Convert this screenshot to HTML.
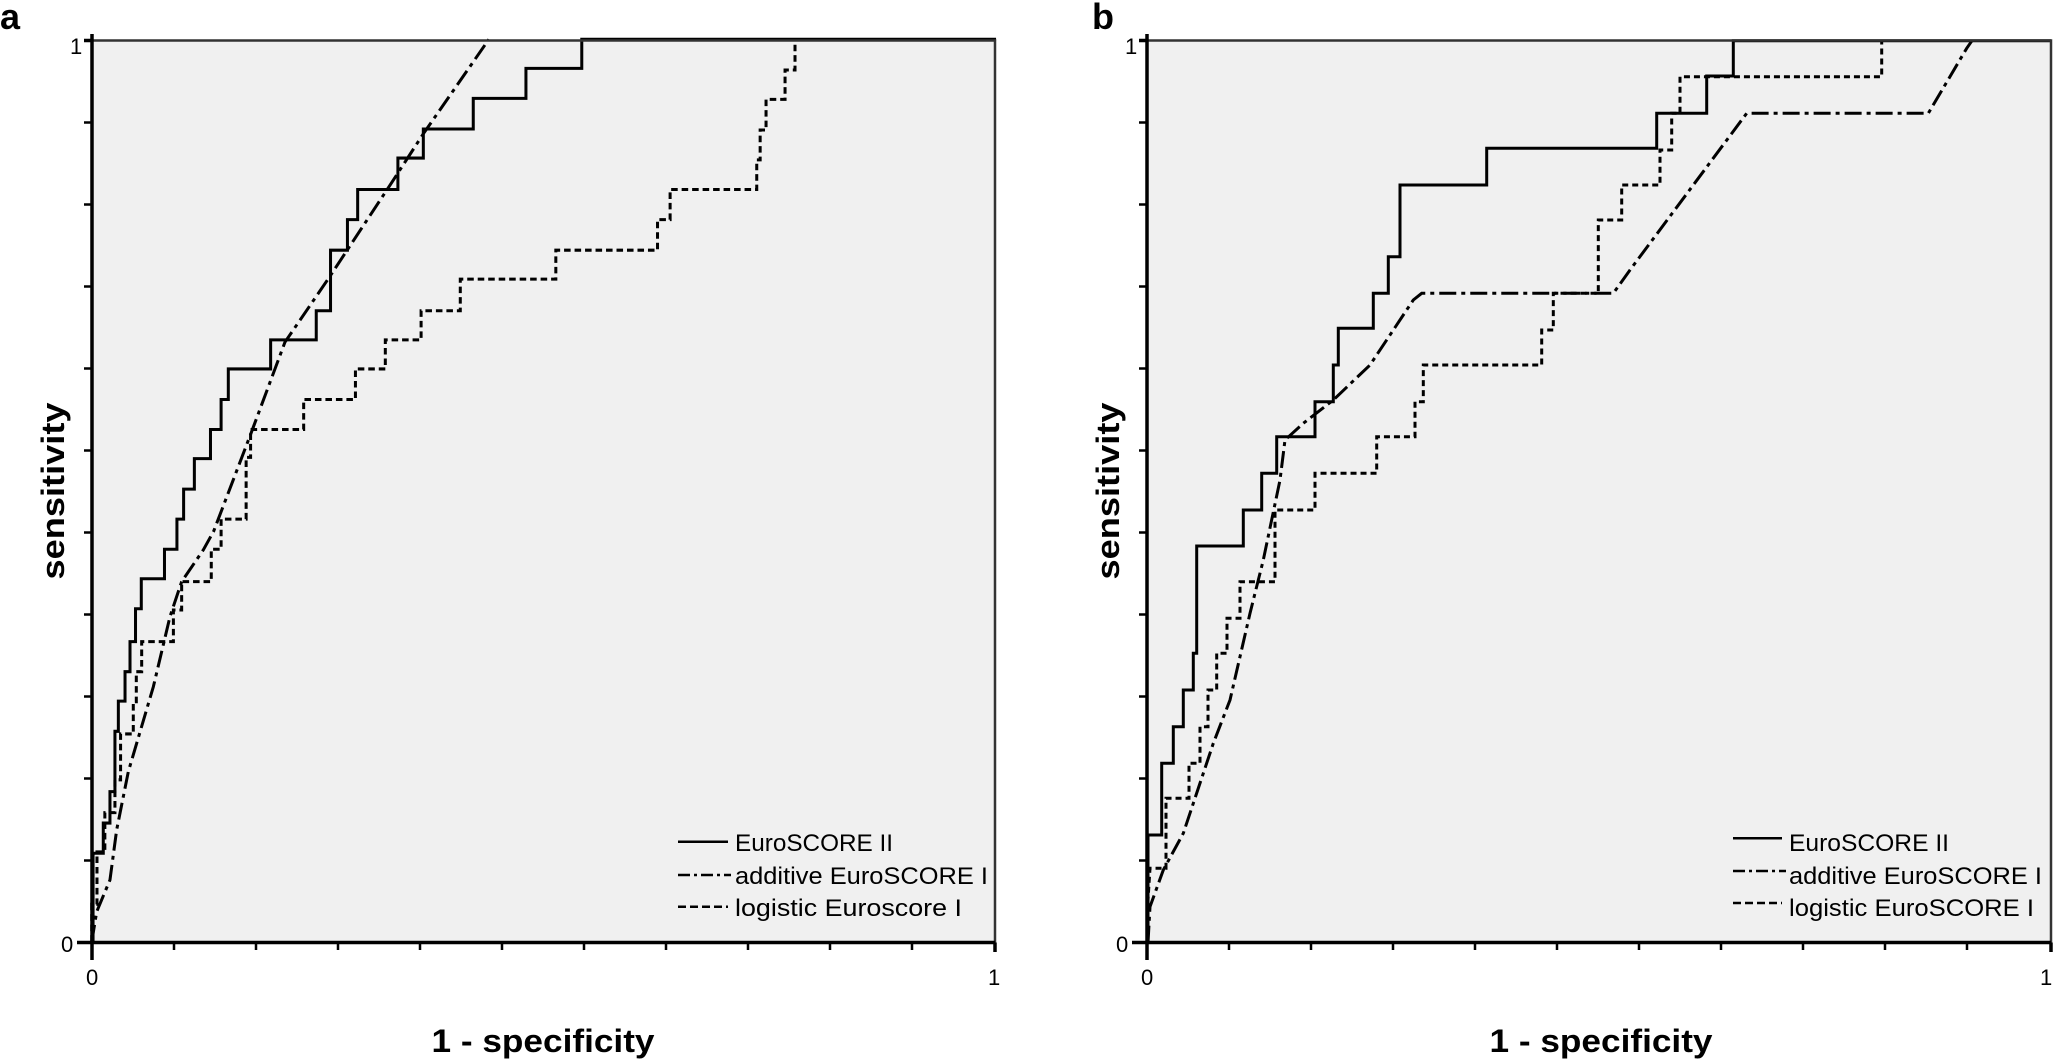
<!DOCTYPE html>
<html><head><meta charset="utf-8"><style>
html,body{margin:0;padding:0;background:#fff;}
svg{display:block;}
text{font-family:"Liberation Sans",Arial,sans-serif;fill:#000;}
</style></head><body>
<svg width="2055" height="1063" viewBox="0 0 2055 1063" xmlns="http://www.w3.org/2000/svg">
<!-- Panel a -->
<rect x="92" y="40.5" width="903" height="902" fill="#f0f0f0"/>
<g fill="none" stroke="#000" stroke-width="3" stroke-linejoin="miter">
<g transform="scale(1.3106)" stroke-width="2.3">
<path d="M70,718.5 L71,718.5 L71,651 L78.8,651 L78.8,628 L83.9,628 L83.9,604 L87.7,604 L87.7,558 L90.3,558 L90.3,535 L95.4,535 L95.4,512.5 L99.2,512.5 L99.2,489.6 L103.4,489.6 L103.4,464.5 L107.8,464.5 L107.8,441.6 L125.5,441.6 L125.5,419.1 L135,419.1 L135,396.1 L140.1,396.1 L140.1,373.2 L148.3,373.2 L148.3,349.9 L160.6,349.9 L160.6,327.7 L168.7,327.7 L168.7,304.8 L174.2,304.8 L174.2,281.5 L206.5,281.5 L206.5,259.3 L241.3,259.3 L241.3,237.1 L252.2,237.1 L252.2,190.9 L265.1,190.9 L265.1,167.6 L272.9,167.6 L272.9,144.6 L303.6,144.6 L303.6,120.6 L323,120.6 L323,98.4 L361.1,98.4 L361.1,75.1 L401.3,75.1 L401.3,52.2 L443.9,52.2 L443.9,30 L760,30"/>
<path stroke-dasharray="13,4,3,4" d="M70,718.5 L73.8,695.6 L83.9,671.4 L89,633.3 L97.9,588.8 L117,524 L129.7,470.5 L138.6,443.8 L155.1,419.6 L163,405.4 L191.9,329.6 L217.4,261.1 L251.5,211.2 L299,139.1 L323,102.1 L373,30"/>
<path stroke-dasharray="5,3" d="M70,718.5 L70,690 L74,690 L74,650 L80,650 L80,620 L87.7,620 L87.7,595 L92,595 L92,560 L101.7,560 L101.7,535.4 L104,535.4 L104,512.5 L108.1,512.5 L108.1,489.6 L132.3,489.6 L132.3,465.4 L138.6,465.4 L138.6,443.8 L161.2,443.8 L161.2,419.1 L168.7,419.1 L168.7,396.1 L187.8,396.1 L187.8,349 L191.2,349 L191.2,327.7 L231.7,327.7 L231.7,304.8 L271.2,304.8 L271.2,281.5 L294,281.5 L294,259.3 L321.3,259.3 L321.3,237.1 L351.2,237.1 L351.2,213 L424.1,213 L424.1,190.9 L501.7,190.9 L501.7,167.6 L511.3,167.6 L511.3,144.6 L577.4,144.6 L577.4,122 L580,122 L580,99.2 L584.5,99.2 L584.5,75.8 L599,75.8 L599,53.4 L606.6,53.4 L606.6,30"/>
</g>
<!-- frame -->
<path stroke-width="2.5" stroke="#333" d="M92,40.5 L995,40.5 L995,942.5"/>
<path stroke-width="3.5" d="M92,34 L92,960 M77,942.5 L995,942.5 M995,942.5 L995,952 M84,40.5 L92,40.5"/>
<path stroke-width="2.5" d="M84,122.5H92M84,204.5H92M84,286.5H92M84,368.5H92M84,450.5H92M84,532.5H92M84,614.5H92M84,696.5H92M84,778.5H92M84,860.5H92 M174,942.5V950M256,942.5V950M338,942.5V950M420,942.5V950M502,942.5V950M584,942.5V950M666,942.5V950M748,942.5V950M830,942.5V950M912,942.5V950"/>
<!-- legend a -->
<path stroke-width="2.5" d="M678,841.7H728"/>
<path stroke-width="2.5" stroke-dasharray="12,4,3,4" d="M678,875H731"/>
<path stroke-width="2.5" stroke-dasharray="8,4" d="M678,906.7H728"/>
</g>
<text x="735" y="851" font-size="24" textLength="158" lengthAdjust="spacingAndGlyphs">EuroSCORE II</text>
<text x="735" y="884" font-size="24" textLength="253" lengthAdjust="spacingAndGlyphs">additive EuroSCORE I</text>
<text x="735" y="916" font-size="24" textLength="227" lengthAdjust="spacingAndGlyphs">logistic Euroscore I</text>
<text x="70" y="54" font-size="22">1</text>
<text x="61" y="952" font-size="22">0</text>
<text x="86" y="985" font-size="22">0</text>
<text x="988" y="985" font-size="22">1</text>
<text x="0" y="29" font-size="36" font-weight="bold">a</text>
<text transform="translate(64,491) rotate(-90)" text-anchor="middle" font-size="32" font-weight="bold" textLength="177" lengthAdjust="spacingAndGlyphs">sensitivity</text>
<text x="543" y="1052" text-anchor="middle" font-size="32" font-weight="bold" textLength="223" lengthAdjust="spacingAndGlyphs">1 - specificity</text>

<!-- Panel b -->
<rect x="1147" y="40.5" width="905" height="902" fill="#f0f0f0"/>
<g fill="none" stroke="#000" stroke-width="3">
<path d="M1148,942.7 L1148,835 L1161.7,835 L1161.7,763.3 L1173.3,763.3 L1173.3,726.7 L1183.3,726.7 L1183.3,690 L1193.3,690 L1193.3,653.3 L1196.7,653.3 L1196.7,546 L1243.3,546 L1243.3,510 L1261.7,510 L1261.7,473.3 L1276.7,473.3 L1276.7,436.7 L1315,436.7 L1315,401.7 L1333.3,401.7 L1333.3,365 L1338.3,365 L1338.3,328.3 L1373.3,328.3 L1373.3,293.3 L1388.3,293.3 L1388.3,256.7 L1400,256.7 L1400,185 L1486.7,185 L1486.7,148.3 L1656.7,148.3 L1656.7,113.3 L1706.7,113.3 L1706.7,76 L1733.3,76 L1733.3,40.7 L2051,40.7"/>
<path stroke-dasharray="17,5,4,5" d="M1148,942.7 L1150,906.7 L1163.3,870 L1183.3,833.3 L1213.3,743.3 L1230,700 L1250,613.3 L1263.3,560 L1280,480 L1285,440 L1303.3,423.3 L1333.3,400 L1370,365 L1413.3,300 L1421.7,293.3 L1613.3,293.3 L1630,270 L1746.7,113.3 L1928.3,113.3 L1966.7,48.3 L1972,40.7"/>
<path stroke-dasharray="6,4" d="M1148,942.7 L1148,900 L1150,868.3 L1166,868.3 L1166,798.3 L1189,798.3 L1189,763.3 L1200,763.3 L1200,726.7 L1208,726.7 L1208,690 L1216.7,690 L1216.7,653.3 L1227,653.3 L1227,618.3 L1240,618.3 L1240,581.7 L1275,581.7 L1275,510 L1315,510 L1315,473.3 L1376.7,473.3 L1376.7,436.7 L1415,436.7 L1415,401.7 L1423.3,401.7 L1423.3,365 L1541.7,365 L1541.7,330 L1553.3,330 L1553.3,293.3 L1598.3,293.3 L1598.3,220 L1621.7,220 L1621.7,185 L1660,185 L1660,150 L1671.7,150 L1671.7,113.3 L1680,113.3 L1680,76.7 L1881.7,76.7 L1881.7,40.7"/>
<path stroke-width="2.5" stroke="#333" d="M1147,40.5 L2051,40.5 L2051,942.5"/>
<path stroke-width="3.5" d="M1147,34 L1147,960 M1132,942.5 L2051,942.5 M2051,942.5 L2051,952 M1139,40.5 L1147,40.5"/>
<path stroke-width="2.5" d="M1139,122.5H1147M1139,204.5H1147M1139,286.5H1147M1139,368.5H1147M1139,450.5H1147M1139,532.5H1147M1139,614.5H1147M1139,696.5H1147M1139,778.5H1147M1139,860.5H1147 M1229,942.5V950M1311,942.5V950M1393,942.5V950M1475,942.5V950M1557,942.5V950M1639,942.5V950M1721,942.5V950M1803,942.5V950M1885,942.5V950M1967,942.5V950"/>
<path stroke-width="2.5" d="M1733,838.3H1782"/>
<path stroke-width="2.5" stroke-dasharray="12,4,3,4" d="M1733,871H1786"/>
<path stroke-width="2.5" stroke-dasharray="8,4" d="M1733,903H1782"/>
</g>
<text x="1789" y="851" font-size="24" textLength="160" lengthAdjust="spacingAndGlyphs">EuroSCORE II</text>
<text x="1789" y="884" font-size="24" textLength="253" lengthAdjust="spacingAndGlyphs">additive EuroSCORE I</text>
<text x="1789" y="916" font-size="24" textLength="245" lengthAdjust="spacingAndGlyphs">logistic EuroSCORE I</text>
<text x="1125" y="54" font-size="22">1</text>
<text x="1116" y="952" font-size="22">0</text>
<text x="1141" y="985" font-size="22">0</text>
<text x="2040" y="985" font-size="22">1</text>
<text x="1092" y="29" font-size="36" font-weight="bold">b</text>
<text transform="translate(1119,491) rotate(-90)" text-anchor="middle" font-size="32" font-weight="bold" textLength="177" lengthAdjust="spacingAndGlyphs">sensitivity</text>
<text x="1601" y="1052" text-anchor="middle" font-size="32" font-weight="bold" textLength="223" lengthAdjust="spacingAndGlyphs">1 - specificity</text>
</svg>
</body></html>
